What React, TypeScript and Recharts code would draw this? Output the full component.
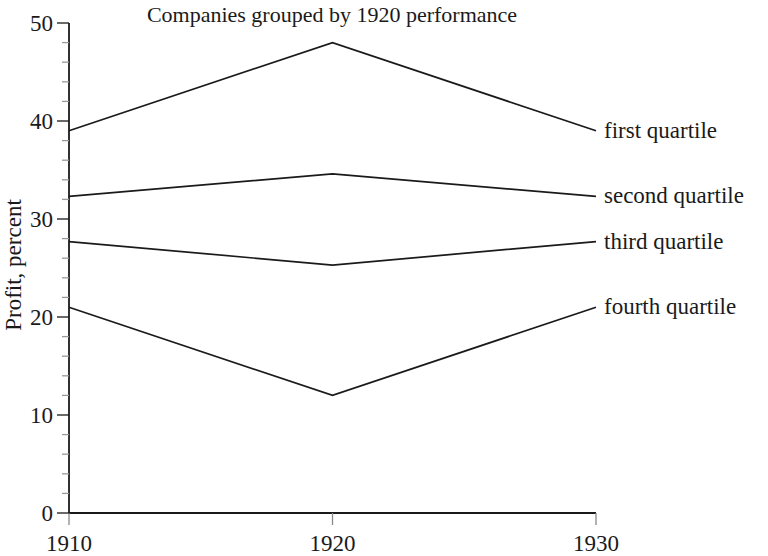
import React from 'react';
import { LineChart, Line, XAxis, YAxis, LabelList, Customized } from 'recharts';

const years = [1910, 1920, 1930];
const firstQuartile = [39, 48, 39];
const secondQuartile = [32.3, 34.6, 32.3];
const thirdQuartile = [27.7, 25.3, 27.7];
const fourthQuartile = [21, 12, 21];
const seriesKeys = ['q1', 'q2', 'q3', 'q4'];
const seriesNames = ['first quartile', 'second quartile', 'third quartile', 'fourth quartile'];
const xTicks = [1910, 1920, 1930];
const yTicks = [0, 2, 4, 6, 8, 10, 12, 14, 16, 18, 20, 22, 24, 26, 28, 30, 32, 34, 36, 38, 40, 42, 44, 46, 48, 50];
const titleText = 'Companies grouped by 1920 performance';
const yLabelText = 'Profit, percent';

const data = years.map((year, i) => ({
  year,
  q1: firstQuartile[i],
  q2: secondQuartile[i],
  q3: thirdQuartile[i],
  q4: fourthQuartile[i],
}));

const FONT = '"Liberation Serif", "Times New Roman", serif';
const INK = '#1a1a1a';
const FS = 23;

const YTick = (props: any) => {
  const { x, y, payload } = props;
  const major = payload.value % 10 === 0;
  return (
    <g>
      <line x1={x} x2={x - (major ? 12 : 7)} y1={y} y2={y} stroke={major ? INK : '#999'} strokeWidth={1.3} />
      {major && (
        <text x={x - 16} y={y + 8} textAnchor="end" fontFamily={FONT} fontSize={FS} fill={INK}>
          {payload.value}
        </text>
      )}
    </g>
  );
};

const XTick = (props: any) => {
  const { x, y, payload } = props;
  return (
    <g>
      <line x1={x} x2={x} y1={y} y2={y + 12} stroke="#888" strokeWidth={1.3} />
      <text x={x} y={y + 38} textAnchor="middle" fontFamily={FONT} fontSize={FS} fill={INK}>
        {payload.value}
      </text>
    </g>
  );
};

const makeEndLabel = (name: string) => (props: any) => {
  const { x, y, index } = props;
  if (index !== years.length - 1) return null;
  return (
    <text x={x + 8} y={y + 7} textAnchor="start" fontFamily={FONT} fontSize={FS} fill={INK}>
      {name}
    </text>
  );
};

const Decorations = () => (
  <g>
    <text x={332} y={22} textAnchor="middle" fontFamily={FONT} fontSize={22} fill={INK}>
      {titleText}
    </text>
    <text
      x={21}
      y={265}
      textAnchor="middle"
      fontFamily={FONT}
      fontSize={FS}
      fill={INK}
      transform="rotate(-90 21 265)"
    >
      {yLabelText}
    </text>
  </g>
);

export default function App() {
  return (
    <div style={{ position: 'absolute', left: 0, top: 0, background: '#fff' }}>
      <LineChart width={768} height={556} data={data} margin={{ top: 23, right: 172, bottom: 0, left: 0 }}>
        <XAxis
          dataKey="year"
          type="number"
          domain={[1910, 1930]}
          ticks={xTicks}
          height={43}
          tickSize={0}
          tickMargin={0}
          tickLine={false}
          axisLine={{ stroke: INK, strokeWidth: 1.8 }}
          tick={<XTick />}
          interval={0}
        />
        <YAxis
          type="number"
          domain={[0, 50]}
          ticks={yTicks}
          width={69}
          tickSize={0}
          tickMargin={0}
          tickLine={false}
          axisLine={{ stroke: INK, strokeWidth: 1.8 }}
          tick={<YTick />}
          interval={0}
        />
        {seriesKeys.map((k, i) => (
          <Line
            key={k}
            dataKey={k}
            type="linear"
            stroke={INK}
            strokeWidth={1.7}
            dot={false}
            activeDot={false}
            isAnimationActive={false}
          >
            <LabelList dataKey={k} content={makeEndLabel(seriesNames[i])} />
          </Line>
        ))}
        <Customized component={Decorations} />
      </LineChart>
    </div>
  );
}
